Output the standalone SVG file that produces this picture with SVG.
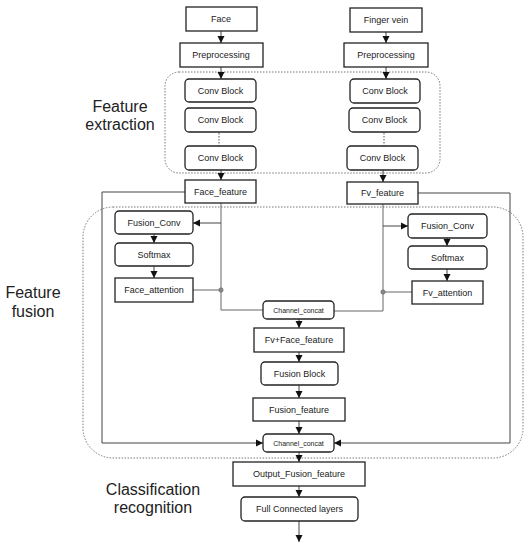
<svg xmlns="http://www.w3.org/2000/svg" width="531" height="550" viewBox="0 0 531 550">
<defs>
<marker id="ah" markerWidth="8" markerHeight="8" refX="7" refY="4" orient="auto" markerUnits="userSpaceOnUse">
<path d="M0,0.5 L7,4 L0,7.5 Z" fill="#111"/>
</marker>
<style>
.box{fill:#fff;stroke:#222;stroke-width:1.3}
.t{font-family:"Liberation Sans",Arial,sans-serif;font-size:9px;fill:#222;text-anchor:middle;dominant-baseline:central}
.ts{font-family:"Liberation Sans",Arial,sans-serif;font-size:7px;fill:#222;text-anchor:middle;dominant-baseline:central}
.lbl{font-family:"Liberation Sans",Arial,sans-serif;font-size:16px;fill:#222;text-anchor:middle}
.c{fill:none;stroke:#666;stroke-width:1}
.ca{fill:none;stroke:#444;stroke-width:1;marker-end:url(#ah)}
.dot{fill:none;stroke:#777;stroke-width:1;stroke-dasharray:1.5 1.5}
</style>
</defs>
<rect width="531" height="550" fill="#fff"/>

<g id="regions">
<rect class="dot" x="165" y="72" width="275" height="101" rx="14"/>
<rect class="dot" x="83" y="207" width="440" height="251" rx="30"/>
</g>

<g id="labels">
<text class="lbl" x="120" y="112">Feature</text>
<text class="lbl" x="120" y="130">extraction</text>
<text class="lbl" x="33" y="298">Feature</text>
<text class="lbl" x="33" y="317">fusion</text>
<text class="lbl" x="153" y="495">Classification</text>
<text class="lbl" x="153" y="513">recognition</text>
</g>

<g id="connectors">
<line class="ca" x1="221" y1="31" x2="221" y2="43"/>
<line class="ca" x1="221" y1="67" x2="221" y2="79"/>
<line class="dot" x1="219" y1="133" x2="219" y2="146" style="stroke:#555"/>
<line class="ca" x1="221" y1="170" x2="221" y2="180"/>
<line class="ca" x1="386" y1="32" x2="386" y2="43"/>
<line class="ca" x1="386" y1="67" x2="386" y2="79"/>
<line class="dot" x1="384" y1="133" x2="384" y2="146" style="stroke:#555"/>
<line class="ca" x1="383" y1="170" x2="383" y2="182"/>

<polyline class="c" points="221,203 221,310 263,310"/>
<line class="ca" x1="221" y1="223" x2="193" y2="223"/>
<line class="c" x1="193" y1="290" x2="221" y2="290"/>
<circle cx="221" cy="290" r="2.2" fill="#888" stroke="#666" stroke-width="0.6"/>
<line class="ca" x1="154" y1="234" x2="154" y2="243"/>
<line class="ca" x1="154" y1="266" x2="154" y2="278"/>

<polyline class="c" points="383,204 383,311 334,311"/>
<line class="ca" x1="383" y1="226" x2="408" y2="226"/>
<line class="c" x1="412" y1="292" x2="383" y2="292"/>
<circle cx="383" cy="292" r="2.2" fill="#888" stroke="#666" stroke-width="0.6"/>
<line class="ca" x1="447" y1="238" x2="447" y2="246"/>
<line class="ca" x1="447" y1="269" x2="447" y2="281"/>

<line class="ca" x1="299" y1="319" x2="299" y2="328"/>
<line class="ca" x1="299" y1="352" x2="299" y2="362"/>
<line class="ca" x1="299" y1="385" x2="299" y2="398"/>
<line class="ca" x1="299" y1="421" x2="299" y2="434"/>
<line class="ca" x1="299" y1="452" x2="299" y2="462"/>
<line class="ca" x1="299" y1="486" x2="299" y2="497"/>
<line class="ca" x1="299" y1="521" x2="299" y2="542"/>

<polyline class="ca" points="185,192 102,192 102,443 263,443"/>
<polyline class="ca" points="418,193 510,193 510,443 334,443"/>
</g>

<g id="face"><rect class="box" x="186" y="7" width="71" height="24"/><text class="t" x="221" y="19">Face</text></g>
<g id="pre-left"><rect class="box" x="180" y="43" width="83" height="24"/><text class="t" x="221" y="55">Preprocessing</text></g>
<g id="finger-vein"><rect class="box" x="350" y="8" width="72" height="24"/><text class="t" x="386" y="20">Finger vein</text></g>
<g id="pre-right"><rect class="box" x="344" y="43" width="84" height="24"/><text class="t" x="386" y="55">Preprocessing</text></g>

<g id="conv-l1"><rect class="box" x="185" y="79" width="71" height="23" rx="4"/><text class="t" x="220.5" y="90.5">Conv Block</text></g>
<g id="conv-l2"><rect class="box" x="185" y="108" width="71" height="24" rx="4"/><text class="t" x="220.5" y="120">Conv Block</text></g>
<g id="conv-l3"><rect class="box" x="185" y="146" width="71" height="24" rx="4"/><text class="t" x="220.5" y="158">Conv Block</text></g>
<g id="conv-r1"><rect class="box" x="350" y="79" width="70" height="24" rx="4"/><text class="t" x="385" y="91">Conv Block</text></g>
<g id="conv-r2"><rect class="box" x="349" y="108" width="71" height="24" rx="4"/><text class="t" x="384.5" y="120">Conv Block</text></g>
<g id="conv-r3"><rect class="box" x="347" y="146" width="71" height="24" rx="4"/><text class="t" x="382.5" y="158">Conv Block</text></g>

<g id="face-feature"><rect class="box" x="185" y="180" width="71" height="23"/><text class="t" x="220.5" y="191.5">Face_feature</text></g>
<g id="fv-feature"><rect class="box" x="347" y="182" width="71" height="22"/><text class="t" x="382.5" y="193">Fv_feature</text></g>

<g id="fusion-conv-l"><rect class="box" x="115" y="211" width="78" height="23" rx="4"/><text class="t" x="154" y="222.5">Fusion_Conv</text></g>
<g id="softmax-l"><rect class="box" x="115" y="243" width="78" height="23" rx="4"/><text class="t" x="154" y="254.5">Softmax</text></g>
<g id="face-attention"><rect class="box" x="115" y="278" width="78" height="24"/><text class="t" x="154" y="290">Face_attention</text></g>

<g id="fusion-conv-r"><rect class="box" x="408" y="214" width="79" height="24" rx="4"/><text class="t" x="447.5" y="226">Fusion_Conv</text></g>
<g id="softmax-r"><rect class="box" x="408" y="246" width="79" height="23" rx="4"/><text class="t" x="447.5" y="257.5">Softmax</text></g>
<g id="fv-attention"><rect class="box" x="412" y="281" width="71" height="23"/><text class="t" x="447.5" y="292.5">Fv_attention</text></g>

<g id="concat-1"><rect class="box" x="263" y="301" width="71" height="18" rx="4"/><text class="ts" x="298.5" y="310">Channel_concat</text></g>
<g id="fv-face-feature"><rect class="box" x="254" y="328" width="90" height="24"/><text class="t" x="299" y="340">Fv+Face_feature</text></g>
<g id="fusion-block"><rect class="box" x="261" y="362" width="77" height="23" rx="4"/><text class="t" x="299.5" y="373.5">Fusion Block</text></g>
<g id="fusion-feature"><rect class="box" x="253" y="398" width="92" height="23"/><text class="t" x="299" y="409.5">Fusion_feature</text></g>
<g id="concat-2"><rect class="box" x="263" y="434" width="71" height="18" rx="4"/><text class="ts" x="298.5" y="443">Channel_concat</text></g>
<g id="output-fusion-feature"><rect class="box" x="233" y="462" width="132" height="24"/><text class="t" x="299" y="474">Output_Fusion_feature</text></g>
<g id="fc-layers"><rect class="box" x="241" y="497" width="117" height="24" rx="4"/><text class="t" x="299.5" y="509">Full Connected layers</text></g>
</svg>
